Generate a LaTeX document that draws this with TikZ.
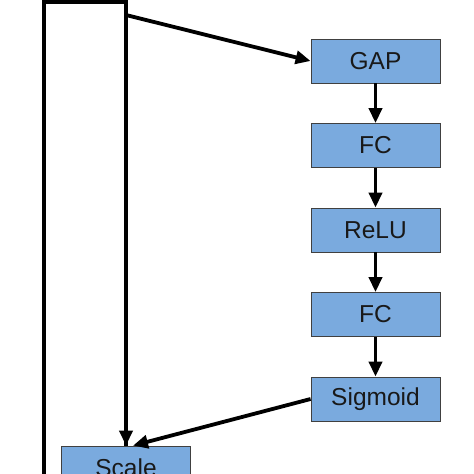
\documentclass[tikz,border=0pt]{standalone}
\usepackage{fontspec}
\setmainfont{Liberation Sans}
\usetikzlibrary{shapes,arrows,arrows.meta,positioning,fit}
\definecolor{boxblue}{RGB}{122,170,222}

\begin{document}
\begin{tikzpicture}[x=1pt,y=1pt]
			\tikzstyle{Block}	= [rectangle, draw=black!75, line width=0.8pt, fill=boxblue, minimum width=129pt, minimum height=44pt, inner sep=0pt, font=\fontsize{24.5}{28}\selectfont, text=black!90]
			\tikzstyle{Feature}	= [rectangle, draw=black, line width=4.2pt, fill=white, minimum width=82pt, minimum height=540pt, inner sep=0pt, outer sep=0pt, anchor=north west]
			\tikzstyle{Flow}	= [line width=3.8pt, -{Triangle[length=15pt,width=13pt]}]

			\useasboundingbox (0,0) rectangle (474,-474);

			\node (feat) at (44,-2) [Feature] {};
			\coordinate (tap) at ([yshift=-13pt]feat.north east);

			\node (gap) at (375.5,-61) [Block] {GAP};
			\node (fc1) at (375.5,-145.5) [Block] {FC};
			\node (relu) at (375.5,-230) [Block] {ReLU};
			\node (fc2) at (375.5,-314.5) [Block] {FC};
			\node (sig) at (375.5,-399) [Block] {Sigmoid};
			\node (scale) at (126,-468) [Block] {Scale};

			\draw (tap) to (gap.west) [Flow];
			\draw (gap) to (fc1) [Flow];
			\draw (fc1) to (relu) [Flow];
			\draw (relu) to (fc2) [Flow];
			\draw (fc2) to (sig) [Flow];
			\draw (feat.north east) to (scale.north) [Flow];
			\draw (sig.west) to ([xshift=7pt]scale.north) [Flow];

		\end{tikzpicture}
\end{document}
